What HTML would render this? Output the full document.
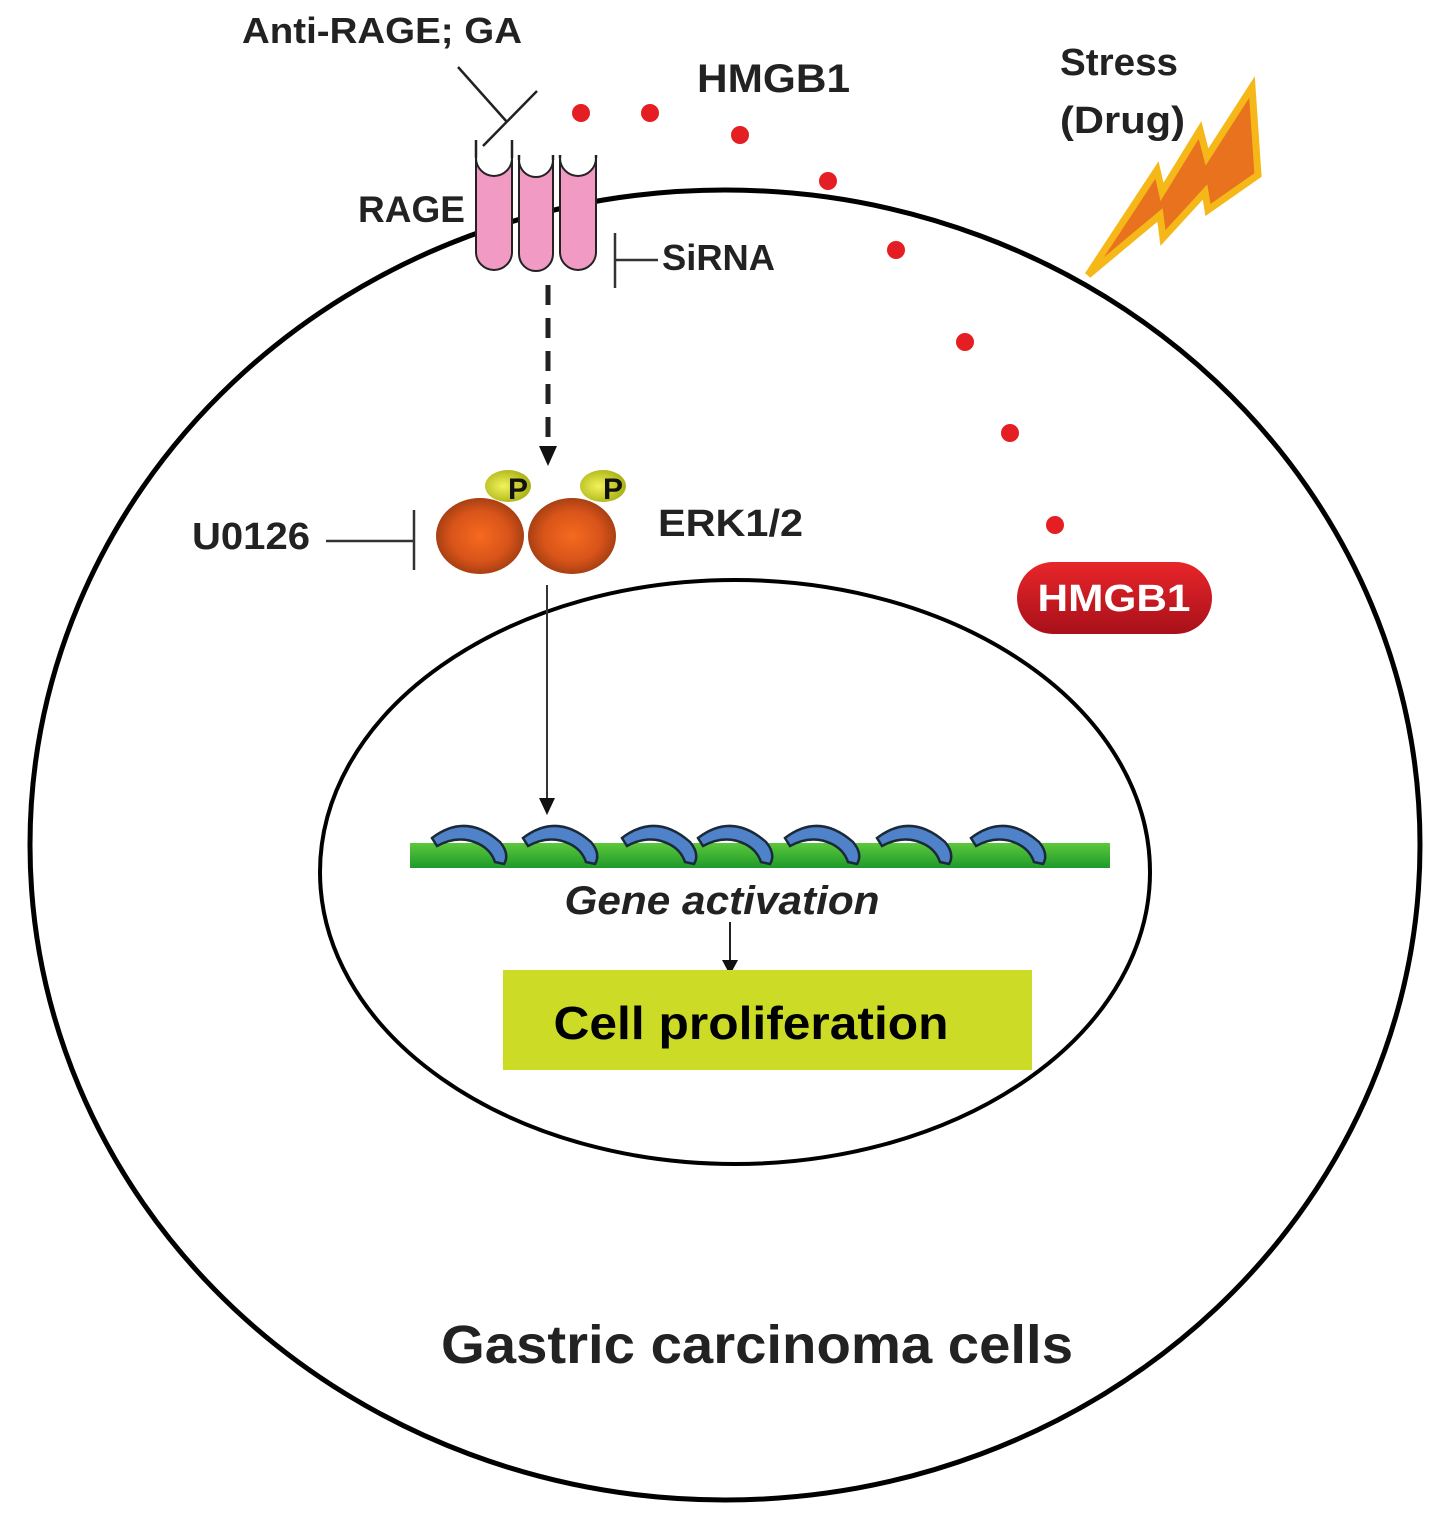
<!DOCTYPE html>
<html><head><meta charset="utf-8"><style>html,body{margin:0;padding:0;background:#fff}svg{display:block}</style></head>
<body>
<svg width="1441" height="1526" viewBox="0 0 1441 1526" xmlns="http://www.w3.org/2000/svg" font-family="Liberation Sans, DejaVu Sans, sans-serif">
<defs>
<radialGradient id="erk" cx="50%" cy="50%" r="55%"><stop offset="0" stop-color="#f56a1e"/><stop offset="0.6" stop-color="#d9541a"/><stop offset="1" stop-color="#9a3a10"/></radialGradient>
<radialGradient id="pg" cx="40%" cy="50%" r="60%"><stop offset="0" stop-color="#f2f25a"/><stop offset="1" stop-color="#a8b012"/></radialGradient>
<linearGradient id="dna" x1="0" y1="0" x2="0" y2="1"><stop offset="0" stop-color="#5cc83c"/><stop offset="1" stop-color="#1e9a2a"/></linearGradient>
<linearGradient id="red" x1="0" y1="0" x2="0" y2="1"><stop offset="0" stop-color="#e8262a"/><stop offset="1" stop-color="#a8101a"/></linearGradient>
</defs>
<ellipse cx="725" cy="845" rx="695" ry="655" fill="none" stroke="#000" stroke-width="5"/>
<ellipse cx="735" cy="872" rx="415" ry="292" fill="none" stroke="#000" stroke-width="4"/>
<!-- RAGE -->
<g fill="#f09ac4" stroke="#222" stroke-width="2">
<path d="M476 158 V252 a18 18 0 0 0 36 0 V158 a18 18 0 0 1 -36 0Z"/>
<path d="M519 160 V254 a17 17 0 0 0 34 0 V160 a17 17 0 0 1 -34 0Z"/>
<path d="M560 158 V252 a18 18 0 0 0 36 0 V158 a18 18 0 0 1 -36 0Z"/>
</g>
<g stroke="#222" stroke-width="2.5" fill="none">
<line x1="476" y1="158" x2="476" y2="140"/><line x1="512" y1="158" x2="512" y2="140"/>
<line x1="519" y1="160" x2="519" y2="155"/><line x1="553" y1="160" x2="553" y2="155"/>
<line x1="560" y1="158" x2="560" y2="155"/><line x1="596" y1="158" x2="596" y2="155"/>
</g>
<!-- antibody -->
<g stroke="#222" stroke-width="2.5" fill="none">
<line x1="458" y1="67" x2="507" y2="122"/><line x1="537" y1="91" x2="483" y2="146"/>
</g>
<text x="242" y="43" font-size="36" font-weight="bold" fill="#222" textLength="280" lengthAdjust="spacingAndGlyphs">Anti-RAGE;  GA</text>
<text x="358" y="222" font-size="37" font-weight="bold" fill="#222">RAGE</text>
<text x="697" y="92" font-size="40" font-weight="bold" fill="#222" textLength="153" lengthAdjust="spacingAndGlyphs">HMGB1</text>
<text x="1060" y="75" font-size="38" font-weight="bold" fill="#222" textLength="118" lengthAdjust="spacingAndGlyphs">Stress</text>
<text x="1060" y="133" font-size="38" font-weight="bold" fill="#222" textLength="125" lengthAdjust="spacingAndGlyphs">(Drug)</text>
<!-- siRNA -->
<g stroke="#333" stroke-width="2.5"><line x1="615" y1="233" x2="615" y2="288"/><line x1="615" y1="260" x2="658" y2="260"/></g>
<text x="662" y="270" font-size="36" font-weight="bold" fill="#222" textLength="113" lengthAdjust="spacingAndGlyphs">SiRNA</text>
<!-- lightning -->
<polygon points="1088,275 1157,170 1162,192 1200,130 1207,157 1252,87 1258,175 1208,210 1205,192 1163,238 1160,215" fill="#e8721e" stroke="#f5b818" stroke-width="7" stroke-linejoin="miter"/>
<!-- dots -->
<g fill="#e41e22">
<circle cx="581" cy="113" r="9"/><circle cx="650" cy="113" r="9"/><circle cx="740" cy="135" r="9"/><circle cx="828" cy="181" r="9"/><circle cx="896" cy="250" r="9"/><circle cx="965" cy="342" r="9"/><circle cx="1010" cy="433" r="9"/><circle cx="1055" cy="525" r="9"/>
</g>
<rect x="1017" y="562" width="195" height="72" rx="36" fill="url(#red)"/>
<text x="1114" y="611" font-size="38" font-weight="bold" fill="#fff" text-anchor="middle" textLength="153" lengthAdjust="spacingAndGlyphs">HMGB1</text>
<!-- dashed arrow -->
<line x1="548" y1="285" x2="548" y2="445" stroke="#222" stroke-width="5" stroke-dasharray="20,13"/>
<polygon points="539,446 557,446 548,466" fill="#111"/>
<!-- ERK -->
<ellipse cx="480" cy="536" rx="44" ry="38" fill="url(#erk)"/>
<ellipse cx="572" cy="536" rx="44" ry="38" fill="url(#erk)"/>
<ellipse cx="508" cy="486" rx="23" ry="16" fill="url(#pg)"/>
<ellipse cx="603" cy="486" rx="23" ry="16" fill="url(#pg)"/>
<text x="518" y="499" font-size="30" font-weight="bold" fill="#111" text-anchor="middle">P</text>
<text x="613" y="499" font-size="30" font-weight="bold" fill="#111" text-anchor="middle">P</text>
<text x="658" y="536" font-size="38" font-weight="bold" fill="#222" textLength="145" lengthAdjust="spacingAndGlyphs">ERK1/2</text>
<text x="192" y="549" font-size="38" font-weight="bold" fill="#222" textLength="118" lengthAdjust="spacingAndGlyphs">U0126</text>
<g stroke="#333" stroke-width="2.5"><line x1="326" y1="541" x2="414" y2="541"/><line x1="414" y1="510" x2="414" y2="570"/></g>
<!-- thin arrow -->
<line x1="547" y1="585" x2="547" y2="800" stroke="#333" stroke-width="2"/>
<polygon points="539,798 555,798 547,815" fill="#111"/>
<!-- DNA -->
<rect x="410" y="843" width="700" height="25" fill="url(#dna)"/>
<g fill="#4f82c8" stroke="#1a2a3a" stroke-width="2.5">
<path id="nuc" d="M432 838 q34 -26 68 4 q10 12 4 22 l-9 -2 q-4 -12 -16 -18 q-20 -10 -42 2 z"/>
<use href="#nuc" x="91"/><use href="#nuc" x="190"/><use href="#nuc" x="266"/><use href="#nuc" x="353"/><use href="#nuc" x="445"/><use href="#nuc" x="539"/>
</g>
<text x="722" y="914" font-size="40" font-weight="bold" font-style="italic" fill="#222" text-anchor="middle" textLength="315" lengthAdjust="spacingAndGlyphs">Gene activation</text>
<line x1="730" y1="922" x2="730" y2="962" stroke="#222" stroke-width="2"/>
<polygon points="722,960 738,960 730,975" fill="#111"/>
<rect x="503" y="970" width="529" height="100" fill="#cbdb26"/>
<text x="751" y="1039" font-size="46" font-weight="bold" fill="#000" text-anchor="middle" textLength="395" lengthAdjust="spacingAndGlyphs">Cell proliferation</text>
<text x="757" y="1363" font-size="54" font-weight="bold" fill="#222" text-anchor="middle" textLength="632" lengthAdjust="spacingAndGlyphs">Gastric carcinoma cells</text>
</svg>
</body></html>
